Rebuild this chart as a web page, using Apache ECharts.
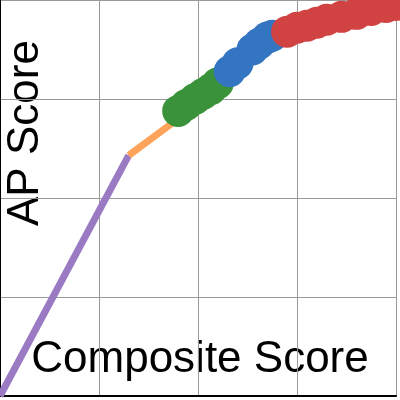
<!DOCTYPE html><html><head><meta charset="utf-8"><script src="https://cdn.jsdelivr.net/npm/echarts@6/dist/echarts.min.js"></script></head><body style="margin:0"><div id="c" style="width:400px;height:400px"></div><script>
const purple=[[0,0],[1.3,2.43]];
const orange=[[1.3,2.43],[1.8,2.8]];
const green=[[1.8,2.88],[1.88,2.94],[1.97,3.0],[2.05,3.05],[2.13,3.1],[2.2,3.16]];
const blue=[[2.32,3.28],[2.4,3.36],[2.55,3.5],[2.62,3.56],[2.7,3.62],[2.75,3.64]];
const red=[[2.9,3.68],[3.0,3.72],[3.1,3.74],[3.2,3.77],[3.3,3.8],[3.45,3.83],[3.6,3.86],[3.75,3.9],[3.9,3.93],[4.0,3.95]];
const ch=echarts.init(document.getElementById('c'));
const sc=(d,c)=>({type:'scatter',data:d,symbolSize:32,itemStyle:{color:c,opacity:1},z:3});
ch.setOption({animation:false,
grid:{left:0,right:4,top:0,bottom:4},
xAxis:{type:'value',min:0,max:4,interval:1,axisLabel:{show:false},axisTick:{show:false},axisLine:{lineStyle:{color:'#000',width:2}},splitLine:{lineStyle:{color:'#999'}}},
yAxis:{type:'value',min:0,max:4,interval:1,axisLabel:{show:false},axisTick:{show:false},axisLine:{show:true,lineStyle:{color:'#000',width:2}},splitLine:{lineStyle:{color:'#999'}}},
series:[
{type:'line',data:purple,symbol:'none',lineStyle:{color:'#9b7ac4',width:7}},
{type:'line',data:orange,symbol:'none',lineStyle:{color:'#ffa35a',width:7}},
sc(green,'#3a923a'),sc(blue,'#3375c1'),sc(red,'#d14343')],
graphic:[
{type:'text',left:'center',top:338,style:{text:'Composite Score',font:'44px "Liberation Sans", Arial',fill:'#000'}},
{type:'text',x:4,y:226,rotation:Math.PI/2,style:{text:'AP Score',font:'44px "Liberation Sans", Arial',fill:'#000'}}
]});
</script></body></html>
